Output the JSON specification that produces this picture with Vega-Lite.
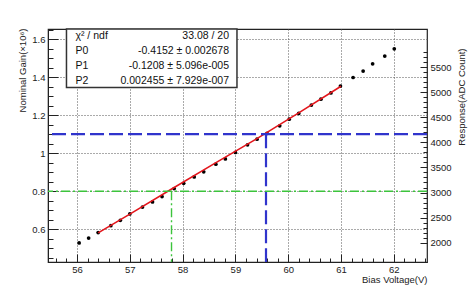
{
  "$schema": "https://vega.github.io/schema/vega-lite/v6.json",
  "width": 379,
  "height": 233,
  "autosize": {"type": "none"},
  "padding": {"left": 48, "top": 29, "right": 47, "bottom": 30},
  "background": "white",
  "config": {
    "view": {"stroke": "#222", "strokeWidth": 1.2},
    "font": "Liberation Sans",
    "axis": {"labelFont": "Liberation Sans", "titleFont": "Liberation Sans", "labelColor": "#222", "titleColor": "#222", "titleFontWeight": "normal", "domainColor": "#222", "tickColor": "#222", "tickWidth": 1}
  },
  "datasets": {
    "points": [
      {"voltage": 56.04, "gain": 0.528}, {"voltage": 56.22, "gain": 0.554}, {"voltage": 56.40, "gain": 0.583},
      {"voltage": 56.64, "gain": 0.619}, {"voltage": 56.82, "gain": 0.647}, {"voltage": 57.00, "gain": 0.681},
      {"voltage": 57.24, "gain": 0.717}, {"voltage": 57.43, "gain": 0.744}, {"voltage": 57.61, "gain": 0.772},
      {"voltage": 57.84, "gain": 0.814}, {"voltage": 58.02, "gain": 0.842}, {"voltage": 58.22, "gain": 0.875},
      {"voltage": 58.40, "gain": 0.902}, {"voltage": 58.63, "gain": 0.942}, {"voltage": 58.81, "gain": 0.970},
      {"voltage": 59.00, "gain": 1.004}, {"voltage": 59.23, "gain": 1.044}, {"voltage": 59.41, "gain": 1.074},
      {"voltage": 59.60, "gain": 1.104}, {"voltage": 59.84, "gain": 1.144}, {"voltage": 60.02, "gain": 1.179},
      {"voltage": 60.20, "gain": 1.209}, {"voltage": 60.44, "gain": 1.253}, {"voltage": 60.62, "gain": 1.284},
      {"voltage": 60.81, "gain": 1.317}, {"voltage": 60.99, "gain": 1.353}, {"voltage": 61.23, "gain": 1.398},
      {"voltage": 61.42, "gain": 1.432}, {"voltage": 61.60, "gain": 1.470}, {"voltage": 61.83, "gain": 1.511},
      {"voltage": 62.01, "gain": 1.549}
    ],
    "fit": [
      {"voltage": 56.40, "gain": 0.581}, {"voltage": 57.00, "gain": 0.680}, {"voltage": 57.80, "gain": 0.813},
      {"voltage": 58.60, "gain": 0.945}, {"voltage": 59.40, "gain": 1.075}, {"voltage": 60.20, "gain": 1.212},
      {"voltage": 61.00, "gain": 1.352}
    ],
    "one": [{}]
  },
  "resolve": {"scale": {"y": "independent"}, "axis": {"y": "independent", "x": "independent"}},
  "layer": [
    {
      "data": {"name": "points"},
      "mark": {"type": "point", "filled": true, "color": "#000", "size": 14, "opacity": 1},
      "encoding": {
        "x": {
          "field": "voltage", "type": "quantitative",
          "scale": {"domain": [55.45, 62.63], "nice": false, "zero": false},
          "axis": {
            "values": [55.6,55.8,56,56.2,56.4,56.6,56.8,57,57.2,57.4,57.6,57.8,58,58.2,58.4,58.6,58.8,59,59.2,59.4,59.6,59.8,60,60.2,60.4,60.6,60.8,61,61.2,61.4,61.6,61.8,62,62.2,62.4,62.6],
            "labelExpr": "abs(datum.value - round(datum.value)) < 0.001 ? format(datum.value, 'd') : ''",
            "labelOverlap": false,
            "labelFontSize": 9.5,
            "labelPadding": 10,
            "tickSize": {"condition": {"test": "abs(datum.value - round(datum.value)) < 0.001", "value": -8}, "value": -4},
            "grid": true,
            "gridColor": "#555",
            "gridDash": [1, 2],
            "gridOpacity": {"condition": {"test": "abs(datum.value - round(datum.value)) < 0.001", "value": 1}, "value": 0},
            "title": "Bias Voltage(V)",
            "titleFontSize": 9.5,
            "titleAnchor": "end",
            "titleAlign": "right",
            "titleBaseline": "middle",
            "titleX": 379,
            "titleY": 17.5
          }
        },
        "y": {
          "field": "gain", "type": "quantitative",
          "scale": {"domain": [0.428, 1.653], "nice": false, "zero": false},
          "axis": {
            "orient": "left",
            "values": [0.45,0.5,0.55,0.6,0.65,0.7,0.75,0.8,0.85,0.9,0.95,1,1.05,1.1,1.15,1.2,1.25,1.3,1.35,1.4,1.45,1.5,1.55,1.6,1.65],
            "labelExpr": "abs(datum.value*5 - round(datum.value*5)) < 0.001 ? format(datum.value, '~g') : ''",
            "labelOverlap": false,
            "labelFontSize": 9.5,
            "labelPadding": 13,
            "tickSize": {"condition": {"test": "abs(datum.value*5 - round(datum.value*5)) < 0.001", "value": -10}, "value": -5},
            "grid": true,
            "gridColor": "#555",
            "gridDash": [1, 2],
            "gridOpacity": {"condition": {"test": "abs(datum.value*5 - round(datum.value*5)) < 0.001", "value": 1}, "value": 0},
            "title": "Nominal Gain(×10⁶)",
            "titleFontSize": 9.5,
            "titleAngle": -90,
            "titleAlign": "right",
            "titleBaseline": "middle",
            "titleX": -26,
            "titleY": -1
          }
        }
      }
    },
    {
      "data": {"name": "fit"},
      "mark": {"type": "line", "color": "#e3161c", "strokeWidth": 1.6},
      "encoding": {
        "x": {"field": "voltage", "type": "quantitative", "axis": null},
        "y": {"field": "gain", "type": "quantitative", "scale": {"domain": [0.428, 1.653], "nice": false, "zero": false}, "axis": null}
      }
    },
    {
      "data": {"name": "one"},
      "mark": {"type": "rule", "color": "#3034cc", "strokeWidth": 2.2, "strokeDash": [14, 5]},
      "encoding": {"y": {"datum": 1.1, "type": "quantitative", "scale": {"domain": [0.428, 1.653], "nice": false, "zero": false}, "axis": null}}
    },
    {
      "data": {"name": "one"},
      "mark": {"type": "rule", "color": "#3034cc", "strokeWidth": 2.2, "strokeDash": [14, 5]},
      "encoding": {
        "x": {"datum": 59.58, "type": "quantitative", "axis": null},
        "y": {"datum": 1.1, "type": "quantitative", "scale": {"domain": [0.428, 1.653], "nice": false, "zero": false}, "axis": null},
        "y2": {"datum": 0.428}
      }
    },
    {
      "data": {"name": "one"},
      "mark": {"type": "rule", "color": "#3cc43c", "strokeWidth": 1.4, "strokeDash": [9, 3, 2, 3]},
      "encoding": {"y": {"datum": 0.8, "type": "quantitative", "scale": {"domain": [0.428, 1.653], "nice": false, "zero": false}, "axis": null}}
    },
    {
      "data": {"name": "one"},
      "mark": {"type": "rule", "color": "#3cc43c", "strokeWidth": 1.4, "strokeDash": [9, 3, 2, 3]},
      "encoding": {
        "x": {"datum": 57.79, "type": "quantitative", "axis": null},
        "y": {"datum": 0.8, "type": "quantitative", "scale": {"domain": [0.428, 1.653], "nice": false, "zero": false}, "axis": null},
        "y2": {"datum": 0.428}
      }
    },
    {
      "data": {"name": "one"},
      "mark": {"type": "rect", "fill": "white", "stroke": "#333", "strokeWidth": 1.5},
      "encoding": {
        "x": {"datum": 55.80, "type": "quantitative", "axis": null},
        "x2": {"datum": 59.03},
        "y": {"datum": 1.653, "type": "quantitative", "scale": {"domain": [0.428, 1.653], "nice": false, "zero": false}, "axis": null},
        "y2": {"datum": 1.346}
      }
    },
    {
      "data": {"name": "one"},
      "mark": {"type": "text", "align": "left", "baseline": "top", "fontSize": 10.5, "lineHeight": 14.8, "color": "#111", "font": "Liberation Sans"},
      "encoding": {
        "x": {"datum": 55.97, "type": "quantitative", "axis": null},
        "y": {"datum": 1.641, "type": "quantitative", "scale": {"domain": [0.428, 1.653], "nice": false, "zero": false}, "axis": null},
        "text": {"value": ["χ² / ndf", "P0", "P1", "P2"]}
      }
    },
    {
      "data": {"name": "one"},
      "mark": {"type": "text", "align": "right", "baseline": "top", "fontSize": 10.5, "lineHeight": 14.8, "color": "#111", "font": "Liberation Sans"},
      "encoding": {
        "x": {"datum": 58.88, "type": "quantitative", "axis": null},
        "y": {"datum": 1.641, "type": "quantitative", "scale": {"domain": [0.428, 1.653], "nice": false, "zero": false}, "axis": null},
        "text": {"value": ["33.08 / 20", "-0.4152 ± 0.002678", "-0.1208 ± 5.096e-005", "0.002455 ± 7.929e-007"]}
      }
    },
    {
      "data": {"name": "one"},
      "mark": {"type": "point", "opacity": 0},
      "encoding": {
        "x": {"datum": 60, "type": "quantitative", "axis": null},
        "y": {
          "datum": 3000, "type": "quantitative",
          "scale": {"domain": [1612, 6266], "nice": false, "zero": false},
          "axis": {
            "orient": "right",
            "values": [2000,2100,2200,2300,2400,2500,2600,2700,2800,2900,3000,3100,3200,3300,3400,3500,3600,3700,3800,3900,4000,4100,4200,4300,4400,4500,4600,4700,4800,4900,5000,5100,5200,5300,5400,5500,5600,5700,5800],
            "labelExpr": "datum.value % 500 === 0 ? format(datum.value, 'd') : ''",
            "labelOverlap": false,
            "labelFontSize": 9.5,
            "labelPadding": 10,
            "domain": false,
            "tickSize": {"condition": {"test": "datum.value % 500 === 0", "value": -7}, "value": -4},
            "grid": false,
            "title": "Response(ADC Count)",
            "titleFontSize": 9.5,
            "titleAngle": -90,
            "titleAlign": "right",
            "titleBaseline": "middle",
            "titleX": 34,
            "titleY": 19
          }
        }
      }
    }
  ]
}
